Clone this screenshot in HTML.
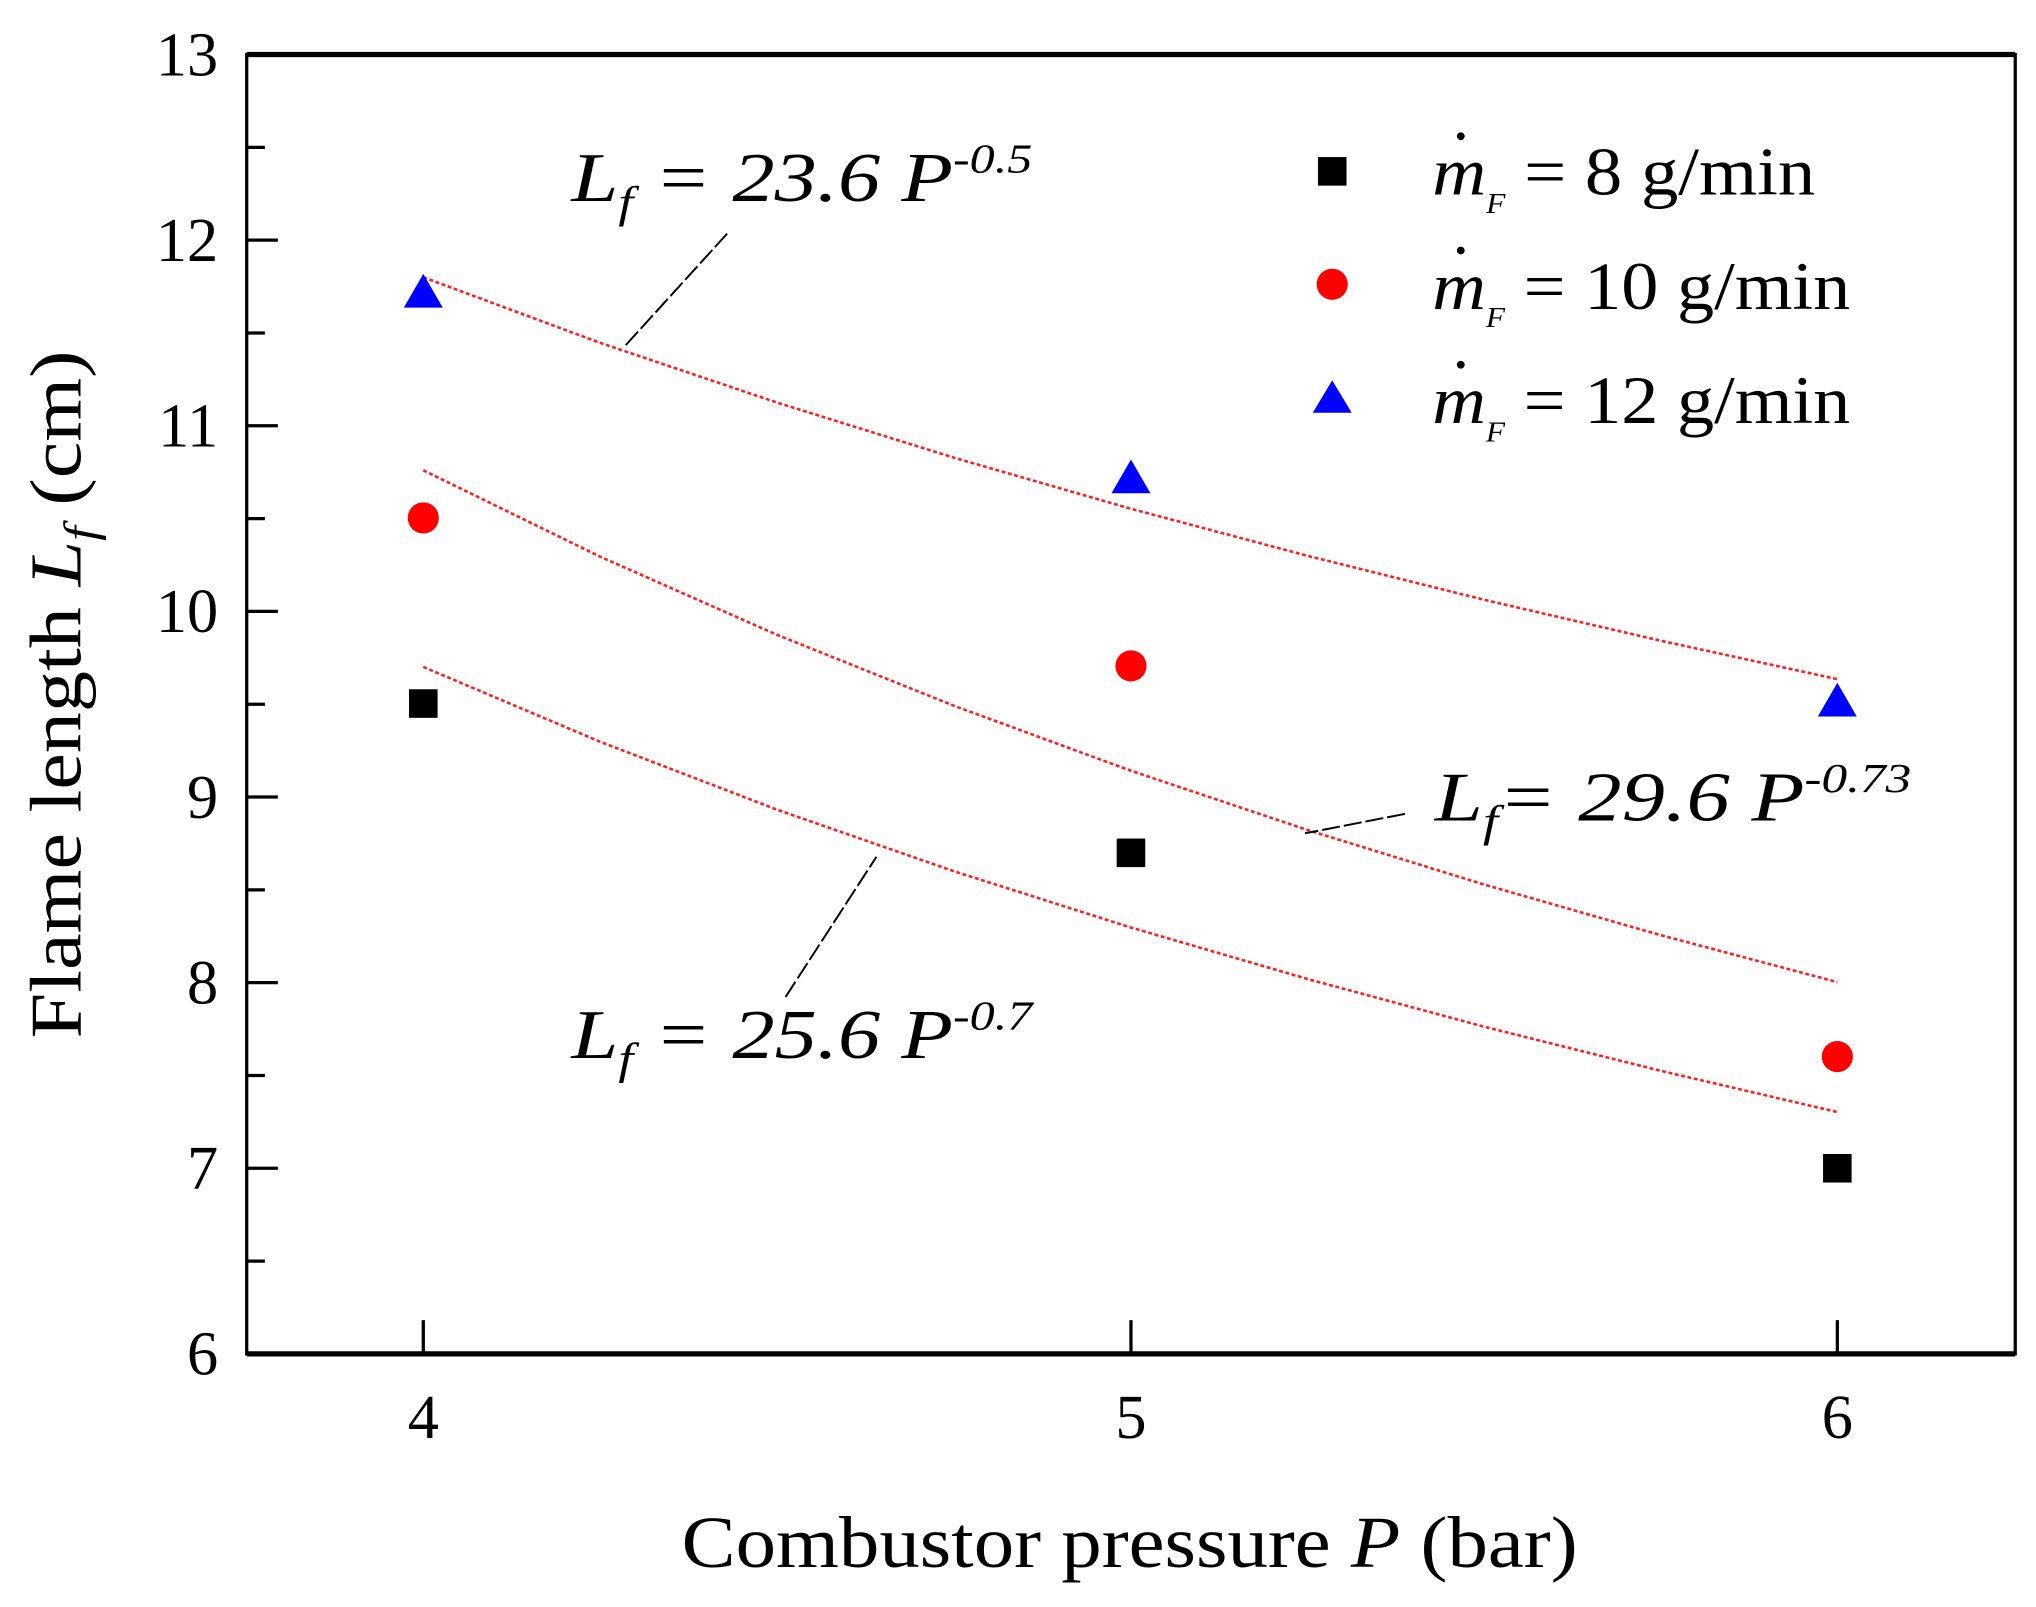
<!DOCTYPE html>
<html><head><meta charset="utf-8"><style>html,body{margin:0;padding:0;background:#fff}svg{display:block}</style></head>
<body>
<svg width="2036" height="1607" viewBox="0 0 1568 1238" preserveAspectRatio="none" xmlns="http://www.w3.org/2000/svg" font-family="'Liberation Serif',serif">
<rect width="1568" height="1238" fill="#fff"/>
<rect x="190" y="42" width="1362" height="1001" fill="none" stroke="#000" stroke-width="2.5"/>
<line x1="190" y1="42" x2="1552" y2="42" stroke="#000" stroke-width="4"/>
<line x1="190" y1="1043" x2="1552" y2="1043" stroke="#000" stroke-width="4"/>
<g stroke="#000" stroke-width="2.5">
<line x1="190" y1="185" x2="214" y2="185"/><line x1="190" y1="328" x2="214" y2="328"/>
<line x1="190" y1="471" x2="214" y2="471"/><line x1="190" y1="614" x2="214" y2="614"/>
<line x1="190" y1="757" x2="214" y2="757"/><line x1="190" y1="900" x2="214" y2="900"/>
<line x1="190" y1="113.5" x2="204" y2="113.5"/><line x1="190" y1="256.5" x2="204" y2="256.5"/>
<line x1="190" y1="399.5" x2="204" y2="399.5"/><line x1="190" y1="542.5" x2="204" y2="542.5"/>
<line x1="190" y1="685.5" x2="204" y2="685.5"/><line x1="190" y1="828.5" x2="204" y2="828.5"/>
<line x1="190" y1="971.5" x2="204" y2="971.5"/>
<line x1="326" y1="1043" x2="326" y2="1017"/><line x1="871" y1="1043" x2="871" y2="1017"/><line x1="1415" y1="1043" x2="1415" y2="1017"/>
</g>
<g font-size="48" text-anchor="end" fill="#000">
<text x="168" y="58">13</text><text x="168" y="201">12</text><text x="168" y="344">11</text>
<text x="168" y="487">10</text><text x="168" y="630">9</text><text x="168" y="773">8</text>
<text x="168" y="916">7</text><text x="168" y="1059">6</text>
</g>
<g font-size="48" text-anchor="middle" fill="#000">
<text x="326" y="1108">4</text><text x="871" y="1108">5</text><text x="1415" y="1108">6</text>
</g>
<text x="525" y="1207" font-size="56" textLength="690" lengthAdjust="spacingAndGlyphs">Combustor pressure <tspan font-style="italic">P</tspan> (bar)</text>
<text transform="translate(62,800) rotate(-90)" font-size="56" textLength="530" lengthAdjust="spacingAndGlyphs">Flame length <tspan font-style="italic">L</tspan><tspan font-style="italic" font-size="36" dy="12">f</tspan><tspan dy="-12"> (cm)</tspan></text>
<g fill="none" stroke="#ff2020" stroke-width="2" stroke-dasharray="3,2">
<polyline points="326,213.6 462.1,264.1 598.3,310.1 734.4,352.5 870.5,391.8 1006.6,428.1 1142.8,462 1278.9,493.6 1415,523.2"/>
<polyline points="326,362.3 462.1,428.8 598.3,489 734.4,543.6 870.5,593.6 1006.6,639.3 1142.8,681.4 1278.9,720.4 1415,756.6"/>
<polyline points="326,513.8 462.1,571.4 598.3,623.7 734.4,671.1 870.5,714.4 1006.6,754.1 1142.8,790.9 1278.9,824.9 1415,856.7"/>
</g>
<g fill="#000">
<rect x="315" y="531" width="22" height="22"/><rect x="860" y="646" width="22" height="22"/><rect x="1404" y="889" width="22" height="22"/>
<rect x="1015" y="121" width="22" height="22"/>
</g>
<g fill="#ff0000">
<circle cx="326" cy="399" r="12"/><circle cx="871" cy="513" r="12"/><circle cx="1415" cy="814" r="12"/>
<circle cx="1026" cy="219" r="12"/>
</g>
<g fill="#0000ff">
<polygon points="326,211 311,237 341,237"/><polygon points="871,354 856,380 886,380"/><polygon points="1415,526 1400,552 1430,552"/>
<polygon points="1026,293 1011,318 1041,318"/>
</g>
<g font-size="52" fill="#000">
<text x="1103" y="150" textLength="295" lengthAdjust="spacingAndGlyphs"><tspan font-style="italic">m</tspan><tspan font-size="22" font-style="italic" dy="14">F</tspan><tspan dy="-14"> = 8 g/min</tspan></text>
<text x="1103" y="238" textLength="322" lengthAdjust="spacingAndGlyphs"><tspan font-style="italic">m</tspan><tspan font-size="22" font-style="italic" dy="14">F</tspan><tspan dy="-14"> = 10 g/min</tspan></text>
<text x="1103" y="326" textLength="322" lengthAdjust="spacingAndGlyphs"><tspan font-style="italic">m</tspan><tspan font-size="22" font-style="italic" dy="14">F</tspan><tspan dy="-14"> = 12 g/min</tspan></text>
<circle cx="1125" cy="105" r="3"/><circle cx="1125" cy="193" r="3"/><circle cx="1125" cy="281" r="3"/>
</g>
<g stroke="#000" stroke-width="1.5" stroke-dasharray="14,3">
<line x1="560" y1="180" x2="480" y2="268"/>
<line x1="1082" y1="627" x2="1005" y2="642"/>
<line x1="605" y1="768" x2="675" y2="660"/>
</g>
<g font-size="54" font-style="italic" fill="#000">
<text x="440" y="155" textLength="355" lengthAdjust="spacingAndGlyphs">L<tspan font-size="34" dy="12">f</tspan><tspan dy="-12"> = 23.6 P</tspan><tspan font-size="32" dy="-22">-0.5</tspan></text>
<text x="1105" y="632" textLength="367" lengthAdjust="spacingAndGlyphs">L<tspan font-size="34" dy="12">f</tspan><tspan dy="-12">= 29.6 P</tspan><tspan font-size="32" dy="-22">-0.73</tspan></text>
<text x="440" y="815" textLength="355" lengthAdjust="spacingAndGlyphs">L<tspan font-size="34" dy="12">f</tspan><tspan dy="-12"> = 25.6 P</tspan><tspan font-size="32" dy="-22">-0.7</tspan></text>
</g>
</svg>
</body></html>
